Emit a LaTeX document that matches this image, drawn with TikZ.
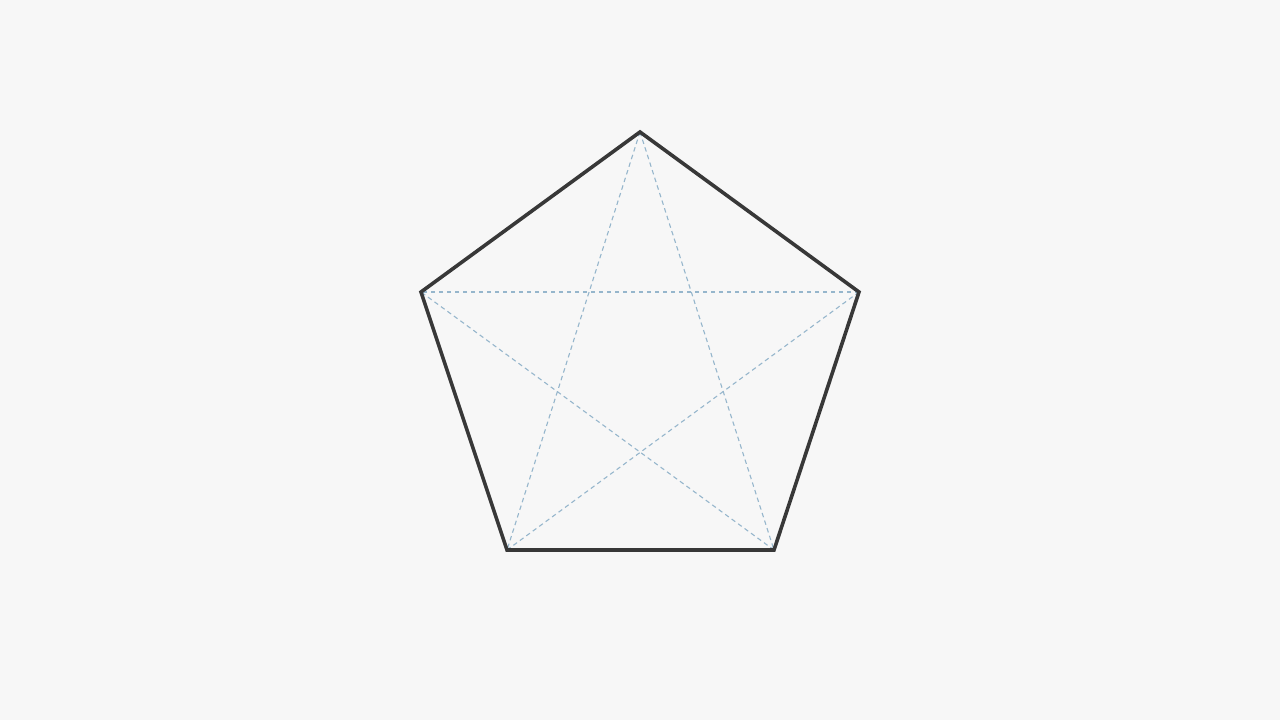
\documentclass[tikz,border=0pt]{standalone}
\begin{document}
\begin{tikzpicture}[x=1pt,y=-1pt,
  edge/.style={draw=black!78, line width=3.6pt, line join=miter},
  diag/.style={draw={rgb,255:red,150;green,182;blue,204}, line width=1.1pt, dash pattern=on 4.5pt off 3.5pt}]
\fill[black!3] (0,0) rectangle (1280,720);
\useasboundingbox (0,0) rectangle (1280,720);
\coordinate (A) at (640,132);
\coordinate (B) at (859,292);
\coordinate (C) at (774,550);
\coordinate (D) at (507,550);
\coordinate (E) at (421,292);
\draw[diag] (A) -- (C);
\draw[diag] (A) -- (D);
\draw[diag] (B) -- (D);
\draw[diag] (B) -- (E);
\draw[diag] (C) -- (E);
\draw[edge] (A) -- (B) -- (C) -- (D) -- (E) -- cycle;
\end{tikzpicture}
\end{document}
